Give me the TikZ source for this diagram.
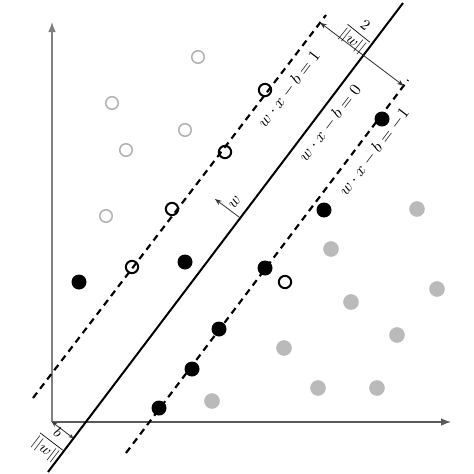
\documentclass[tikz,border=0pt]{standalone}
\usetikzlibrary{arrows.meta,calc}
\begin{document}
\begin{tikzpicture}[x=0.6pt,y=-0.6pt,
  fblack/.style={circle,fill=black,inner sep=0pt,minimum size=9pt},
  fgray/.style={circle,fill=black!27,inner sep=0pt,minimum size=9.4pt},
  oblack/.style={circle,draw=black,line width=1.2pt,inner sep=0pt,minimum size=7.4pt},
  ogray/.style={circle,draw=black!30,line width=0.9pt,inner sep=0pt,minimum size=7.5pt},
  axisline/.style={line width=0.7pt,-{Latex[length=6pt,width=4.5pt]}},
  hyper/.style={line width=1.2pt},
  marginline/.style={line width=1.3pt,dash pattern=on 4pt off 3pt},
  thinarrow/.style={line width=0.5pt,draw=black!80},
  lbl/.style={inner sep=0pt,font=\normalsize}]
\useasboundingbox (0,0) rectangle (474,474);
% axes
\coordinate (O) at (52,422);
\coordinate (ytip) at (52,22);
\coordinate (xtip) at (451,422);
\draw[axisline,draw=black!50] (O) -- (ytip);
\draw[axisline,draw=black!65] (O) -- (xtip);
% hyperplanes
\coordinate (S1) at (48,472);
\coordinate (S2) at (403,3);
\coordinate (U1) at (33,398);
\coordinate (U2) at (326,15);
\coordinate (L1) at (126,453);
\coordinate (L2) at (408,80);
\draw[hyper] (S1) -- (S2);
\draw[marginline] (U1) -- (U2);
\draw[marginline] (L1) -- (L2);
% margin arrow
\coordinate (A1) at ($(U1)!0.98!(U2)$);
\coordinate (A2) at ($(L1)!(A1)!(L2)$);
\draw[thinarrow,{Stealth[length=4pt,width=3pt]}-{Stealth[length=4pt,width=3pt]}] (A1) -- (A2);
% b arrow
\coordinate (F) at ($(S1)!(O)!(S2)$);
\draw[thinarrow,{Stealth[length=3pt,width=2.5pt]}-{Stealth[length=3pt,width=2.5pt]}] (O) -- (F);
% w arrow
\coordinate (W0) at ($(S1)!(239,217)!(S2)$);
\coordinate (W1) at (215,199);
\draw[thinarrow,-{Stealth[length=4pt,width=3pt]}] (W0) -- (W1);
% labels
\node[lbl,rotate=52.8] (t0) at (330,123) {$w\cdot x-b=0$};
\node[lbl,rotate=52.8] (t1) at (289,89) {$w\cdot x-b=1$};
\node[lbl,rotate=52.8] (tm1) at (374,152) {$w\cdot x-b=-1$};
\node[lbl,rotate=52.8] (tw) at (235,202) {$w$};
\node[lbl,rotate=-38.8] (tmg) at (358,34) {\small$\displaystyle\frac{2}{||w||}$};
\node[lbl,rotate=-37.3] (tb) at (51,442) {\small$\displaystyle\frac{b}{||w||}$};
% gray open circles
\node[ogray] (g1) at (198,57) {};
\node[ogray] (g2) at (112,103) {};
\node[ogray] (g3) at (185,130) {};
\node[ogray] (g4) at (126,150) {};
\node[ogray] (g5) at (106,216) {};
% black open circles
\node[oblack] (o1) at (265,90) {};
\node[oblack] (o2) at (225,152) {};
\node[oblack] (o3) at (172,209) {};
\node[oblack] (o4) at (132,267) {};
\node[oblack] (o5) at (285,282) {};
% black filled circles
\node[fblack] (b1) at (382,119) {};
\node[fblack] (b2) at (324,210) {};
\node[fblack] (b3) at (185,262) {};
\node[fblack] (b4) at (265,268) {};
\node[fblack] (b5) at (79,282) {};
\node[fblack] (b6) at (219,329) {};
\node[fblack] (b7) at (192,369) {};
\node[fblack] (b8) at (159,408) {};
% gray filled circles
\node[fgray] (h1) at (417,209) {};
\node[fgray] (h2) at (331,249) {};
\node[fgray] (h3) at (437,289) {};
\node[fgray] (h4) at (351,302) {};
\node[fgray] (h5) at (397,335) {};
\node[fgray] (h6) at (284,348) {};
\node[fgray] (h7) at (318,388) {};
\node[fgray] (h8) at (377,388) {};
\node[fgray] (h9) at (212,401) {};
\end{tikzpicture}
\end{document}
